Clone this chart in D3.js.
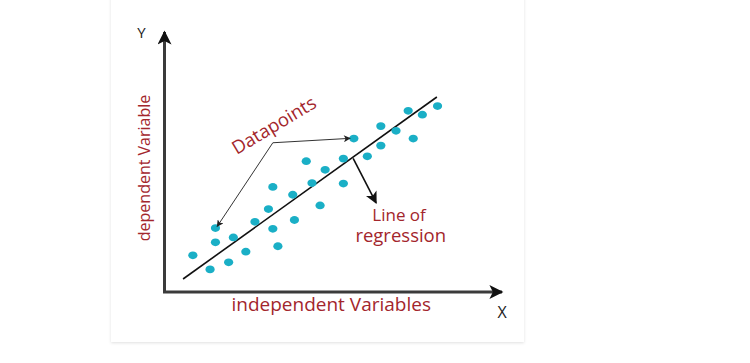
<!DOCTYPE html>
<html>
<head>
<meta charset="utf-8">
<script src="https://cdn.jsdelivr.net/npm/d3@7"></script>
<style>
  html, body { margin: 0; padding: 0; background: #ffffff; }
  svg { display: block; }
</style>
</head>
<body>
<svg id="chart" width="750" height="363"></svg>
<script>
// ---- data (in abstract chart units) ----
const pointX = [0.84, 1.35, 1.51, 1.51, 1.90, 2.04, 2.41, 2.68, 3.08, 3.21, 3.21, 3.36, 3.80, 3.85, 4.20,
                4.37, 4.61, 4.76, 5.30, 5.30, 5.61, 6.01, 6.41, 6.41, 6.86, 7.22, 7.37, 7.64, 8.09];
const pointY = [1.41, 0.87, 2.46, 1.91, 1.14, 2.10, 1.55, 2.70, 3.19, 4.04, 2.43, 1.76, 3.74, 2.77, 5.03,
                4.19, 3.33, 4.70, 5.13, 4.17, 5.90, 5.22, 6.38, 5.63, 6.20, 6.97, 5.90, 6.82, 7.15];
const regressionX = [0.55, 8.07];
const regressionY = [0.50, 7.50];
const axisLabels = ["independent Variables", "dependent Variable"];
const axisNames = ["X", "Y"];
const annotationLabels = ["Datapoints", "Line of", "regression"];

// ---- layout ----
const svg = d3.select("#chart");
const x = d3.scaleLinear().domain([0, 10]).range([164.5, 502]);
const y = d3.scaleLinear().domain([0, 10]).range([292, 32]);

const red = "#a3262c";
const teal = "#1aafc6";
const font = "'Open Sans', 'DejaVu Sans', sans-serif";

// card with soft shadow
const defs = svg.append("defs");
const f = defs.append("filter").attr("id", "shadow").attr("x", "-5%").attr("y", "-5%").attr("width", "110%").attr("height", "110%");
f.append("feDropShadow").attr("dx", 0).attr("dy", 1).attr("stdDeviation", 1.5).attr("flood-color", "#000").attr("flood-opacity", 0.12);
svg.append("rect").attr("x", 111).attr("y", -10).attr("width", 413).attr("height", 352)
  .attr("fill", "#fff").attr("filter", "url(#shadow)");

// arrowhead markers
function marker(id, w, h, color) {
  defs.append("marker").attr("id", id)
    .attr("viewBox", "0 0 10 10").attr("refX", 9).attr("refY", 5)
    .attr("markerWidth", w).attr("markerHeight", h)
    .attr("markerUnits", "userSpaceOnUse")
    .attr("orient", "auto")
    .append("path").attr("d", "M0,0 L10,5 L0,10 L2.5,5 Z").attr("fill", color);
}
marker("axisHead", 16, 14, "#111");
marker("bigHead", 13, 12, "#111");
marker("smallHead", 9, 7, "#222");

// axes
svg.append("path")
  .attr("d", d3.line()([[x(0), y(0)], [x(0), y(10)]]))
  .attr("stroke", "#3b3b3b").attr("stroke-width", 3).attr("fill", "none")
  .attr("marker-end", "url(#axisHead)");
svg.append("path")
  .attr("d", d3.line()([[x(0) - 1.5, y(0)], [x(10), y(0)]]))
  .attr("stroke", "#3b3b3b").attr("stroke-width", 3).attr("fill", "none")
  .attr("marker-end", "url(#axisHead)");

// axis names
svg.append("text").attr("x", x(-0.68)).attr("y", y(9.77)).attr("text-anchor", "middle")
  .attr("font-family", font).attr("font-size", 15).attr("fill", "#222").text(axisNames[1]);
svg.append("text").attr("x", x(10)).attr("y", y(-1.0)).attr("text-anchor", "middle")
  .attr("font-family", font).attr("font-size", 16).attr("fill", "#222").text(axisNames[0]);

// axis labels
svg.append("text").attr("x", x(4.94)).attr("y", y(-0.72)).attr("text-anchor", "middle")
  .attr("font-family", font).attr("font-size", 19).attr("fill", red).text(axisLabels[0]);
svg.append("text")
  .attr("transform", `translate(${x(-0.44)},${y(4.77)}) rotate(-90)`)
  .attr("text-anchor", "middle")
  .attr("font-family", font).attr("font-size", 16).attr("fill", red).text(axisLabels[1]);

// regression line
svg.append("path")
  .attr("d", d3.line()(regressionX.map((d, i) => [x(d), y(regressionY[i])])))
  .attr("stroke", "#111").attr("stroke-width", 1.6).attr("fill", "none");

// data points
svg.append("g").selectAll("ellipse").data(pointX).join("ellipse")
  .attr("cx", (d) => x(d)).attr("cy", (d, i) => y(pointY[i]))
  .attr("rx", 4.6).attr("ry", 3.9).attr("fill", teal);

// "Datapoints" annotation arrows
const vx = 3.21, vy = 5.74;
svg.append("path")
  .attr("d", d3.line()([[x(vx), y(vy)], [x(5.50), y(5.91)]]))
  .attr("stroke", "#333").attr("stroke-width", 1).attr("fill", "none")
  .attr("marker-end", "url(#smallHead)");
svg.append("path")
  .attr("d", d3.line()([[x(vx), y(vy)], [x(1.56), y(2.52)]]))
  .attr("stroke", "#333").attr("stroke-width", 1).attr("fill", "none")
  .attr("marker-end", "url(#smallHead)");
svg.append("text")
  .attr("transform", `translate(${x(3.34)},${y(6.2)}) rotate(-31)`)
  .attr("text-anchor", "middle")
  .attr("font-family", font).attr("font-size", 18.5).attr("fill", red).text(annotationLabels[0]);

// regression annotation arrow
svg.append("path")
  .attr("d", d3.line()([[x(5.59), y(5.14)], [x(6.27), y(3.43)]]))
  .attr("stroke", "#111").attr("stroke-width", 1.6).attr("fill", "none")
  .attr("marker-end", "url(#bigHead)");
svg.append("text").attr("x", x(6.95)).attr("y", y(2.75)).attr("text-anchor", "middle")
  .attr("font-family", font).attr("font-size", 17).attr("fill", red).text(annotationLabels[1]);
svg.append("text").attr("x", x(7.0)).attr("y", y(1.91)).attr("text-anchor", "middle")
  .attr("font-family", font).attr("font-size", 18.5).attr("fill", red).text(annotationLabels[2]);
</script>
</body>
</html>
